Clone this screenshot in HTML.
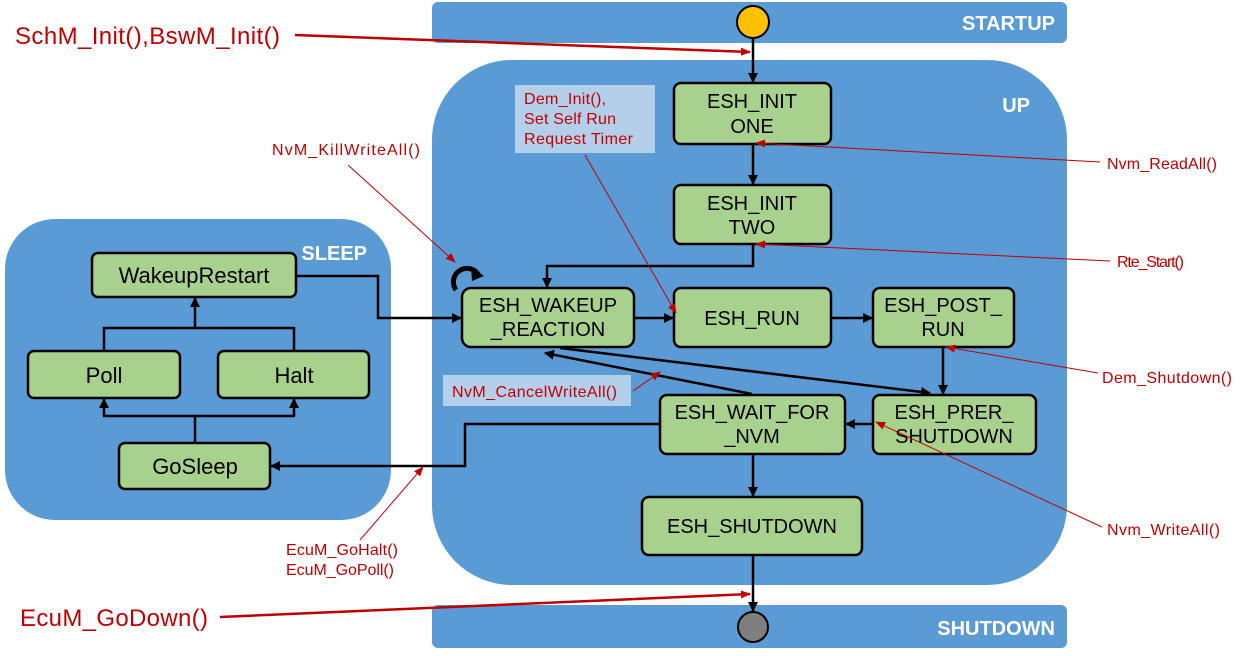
<!DOCTYPE html>
<html><head><meta charset="utf-8"><style>
html,body{margin:0;padding:0;background:#fff;width:1245px;height:656px;overflow:hidden}
svg{display:block;font-family:"Liberation Sans",sans-serif}
.n{fill:#a9d18e;stroke:#000;stroke-width:2.5}
.t{font-size:20px;fill:#000;text-anchor:middle}
.r{font-size:16px;fill:#c00000}
.w{font-size:20px;fill:#fff;font-weight:bold}
.k{stroke:#000;stroke-width:2.5;fill:none}
.rl{stroke:#c00000;stroke-width:1;fill:none}
.bl{stroke:#c00000;stroke-width:2.5;fill:none}
</style></head><body>
<svg width="1245" height="656" viewBox="0 0 1245 656">
<defs>
<marker id="a" markerWidth="10" markerHeight="10" refX="9" refY="5" orient="auto" markerUnits="userSpaceOnUse"><path d="M0,0 L10,5 L0,10 z" fill="#000"/></marker>
<marker id="ra" markerWidth="10" markerHeight="8" refX="9" refY="4" orient="auto" markerUnits="userSpaceOnUse"><path d="M0,0 L10,4 L0,8 z" fill="#c00000"/></marker>
</defs>
<rect x="432" y="2" width="635" height="41" rx="6" fill="#5b9bd5"/>
<rect x="432" y="60" width="635" height="525" rx="80" fill="#5b9bd5"/>
<rect x="432" y="605" width="635" height="43" rx="6" fill="#5b9bd5"/>
<rect x="5" y="219" width="386" height="301" rx="50" fill="#5b9bd5"/>
<text x="1055" y="30" class="w" text-anchor="end">STARTUP</text>
<text x="1030" y="112" class="w" text-anchor="end">UP</text>
<text x="1055" y="635" class="w" text-anchor="end">SHUTDOWN</text>
<text x="367" y="260" class="w" text-anchor="end">SLEEP</text>
<circle cx="753" cy="22" r="16" fill="#ffc000" stroke="#000" stroke-width="2"/>
<circle cx="753" cy="627" r="15" fill="#7f7f7f" stroke="#000" stroke-width="2"/>
<path class="k" d="M753 38 V82" marker-end="url(#a)"/>
<path class="k" d="M753 144 V184" marker-end="url(#a)"/>
<path class="k" d="M753 244 V266 H547 V287" marker-end="url(#a)"/>
<path class="k" d="M634 318 H673" marker-end="url(#a)"/>
<path class="k" d="M831 318 H872" marker-end="url(#a)"/>
<path class="k" d="M943 347 V394" marker-end="url(#a)"/>
<path class="k" d="M873 424 H846" marker-end="url(#a)"/>
<path class="k" d="M753 454 V496" marker-end="url(#a)"/>
<path class="k" d="M753 555 V611" marker-end="url(#a)"/>
<path class="k" d="M560 348 L930 393" marker-end="url(#a)"/>
<path class="k" d="M752 394 L545 353" marker-end="url(#a)"/>
<path class="k" d="M660 424 H465 V466 H271" marker-end="url(#a)"/>
<path class="k" d="M296 276 H378 V318 H461" marker-end="url(#a)"/>
<path class="k" d="M195 443 V416 M103 416 H295"/>
<path class="k" d="M104 416 V399" marker-end="url(#a)"/>
<path class="k" d="M294 416 V399" marker-end="url(#a)"/>
<path class="k" d="M104 351 V328 H294 V351 M195 328 V298" marker-end="url(#a)"/>
<path d="M456 290 A13 13 0 1 1 478 274" stroke="#000" stroke-width="5" fill="none"/>
<path d="M471 266 L484 276 L472 281 z" fill="#000"/>
<rect class="n" x="674" y="83" width="157" height="61" rx="7"/>
<text class="t" x="752" y="108">ESH_INIT</text><text class="t" x="752" y="133">ONE</text>
<rect class="n" x="674" y="185" width="157" height="59" rx="7"/>
<text class="t" x="752" y="210">ESH_INIT</text><text class="t" x="752" y="234">TWO</text>
<rect class="n" x="462" y="288" width="172" height="59" rx="9"/>
<text class="t" x="548" y="312">ESH_WAKEUP</text><text class="t" x="548" y="336">_REACTION</text>
<rect class="n" x="674" y="288" width="157" height="59" rx="7"/>
<text class="t" x="752" y="325">ESH_RUN</text>
<rect class="n" x="873" y="288" width="141" height="59" rx="7"/>
<text class="t" x="943" y="312">ESH_POST_</text><text class="t" x="943" y="336">RUN</text>
<rect class="n" x="660" y="395" width="185" height="59" rx="7"/>
<text class="t" x="752" y="419">ESH_WAIT_FOR</text><text class="t" x="752" y="443">_NVM</text>
<rect class="n" x="873" y="395" width="163" height="59" rx="7"/>
<text class="t" x="954" y="419">ESH_PRER_</text><text class="t" x="954" y="443">SHUTDOWN</text>
<rect class="n" x="642" y="497" width="220" height="58" rx="7"/>
<text class="t" x="752" y="533">ESH_SHUTDOWN</text>
<rect class="n" x="92" y="253" width="204" height="44" rx="6"/>
<text class="t" x="194" y="283" style="font-size:22px">WakeupRestart</text>
<rect class="n" x="28" y="351" width="152" height="47" rx="6"/>
<text class="t" x="104" y="383" style="font-size:22px">Poll</text>
<rect class="n" x="218" y="351" width="151" height="47" rx="6"/>
<text class="t" x="294" y="383" style="font-size:22px">Halt</text>
<rect class="n" x="119" y="443" width="151" height="46" rx="6"/>
<text class="t" x="195" y="474" style="font-size:22px">GoSleep</text>
<rect x="515" y="85" width="140" height="68" fill="#b4cfea"/>
<text class="r" x="524" y="104" textLength="82">Dem_Init(),</text>
<text class="r" x="524" y="124" textLength="92">Set Self Run</text>
<text class="r" x="524" y="144" textLength="109">Request Timer</text>
<rect x="443" y="375" width="188" height="31" fill="#b4cfea"/>
<text class="r" x="452" y="397" textLength="165">NvM_CancelWriteAll()</text>
<text x="15" y="44" style="font-size:24px;fill:#c00000" textLength="265">SchM_Init(),BswM_Init()</text>
<path class="bl" d="M295 35 L750 52" marker-end="url(#ra)"/>
<text x="20" y="626" style="font-size:24px;fill:#c00000" textLength="188">EcuM_GoDown()</text>
<path class="bl" d="M220 617 L750 594" marker-end="url(#ra)"/>
<text class="r" x="272" y="155" textLength="148">NvM_KillWriteAll()</text>
<path class="rl" d="M348 165 L455 262" marker-end="url(#ra)"/>
<path class="rl" d="M585 155 L676 313" marker-end="url(#ra)"/>
<path class="rl" d="M633 391 L660 372" marker-end="url(#ra)"/>
<text class="r" x="1107" y="169" textLength="110">Nvm_ReadAll()</text>
<path class="rl" d="M1100 162 L756 143" marker-end="url(#ra)"/>
<text class="r" x="1117" y="267" textLength="67">Rte_Start()</text>
<path class="rl" d="M1110 261 L756 244" marker-end="url(#ra)"/>
<text class="r" x="1102" y="383" textLength="130">Dem_Shutdown()</text>
<path class="rl" d="M1098 373 L946 347" marker-end="url(#ra)"/>
<text class="r" x="1107" y="535" textLength="113">Nvm_WriteAll()</text>
<path class="rl" d="M1102 527 L876 422" marker-end="url(#ra)"/>
<text class="r" x="286" y="555" textLength="112">EcuM_GoHalt()</text>
<text class="r" x="286" y="575" textLength="108">EcuM_GoPoll()</text>
<path class="rl" d="M360 540 L423 467" marker-end="url(#ra)"/>
</svg>
</body></html>
